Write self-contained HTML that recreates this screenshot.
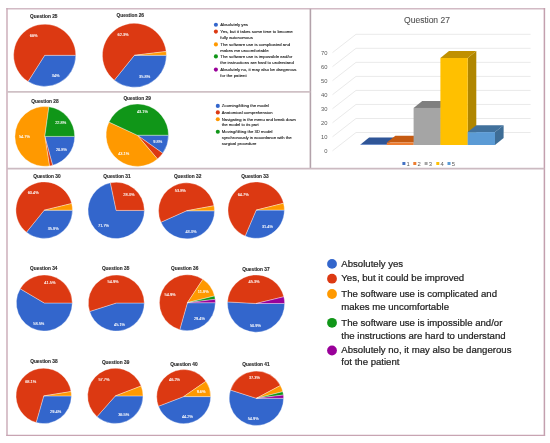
<!DOCTYPE html>
<html><head><meta charset="utf-8"><title>Survey charts</title><style>
html,body{margin:0;padding:0;background:#fff;width:550px;height:443px;overflow:hidden}
svg{display:block}
text{font-family:"Liberation Sans",Arial,sans-serif}
.qt{font-size:6.2px;font-weight:bold;fill:#2b2b2b;stroke:#2b2b2b;stroke-width:0.15px}
.pl{fill:#fff;text-anchor:middle;stroke:#fff;stroke-width:0.1px}
.sl{fill:#1e1e1e;stroke:#1e1e1e;stroke-width:0.12px}
.bl{fill:#1e1e1e;stroke:#1e1e1e;stroke-width:0.22px}
.bt{font-size:8.5px;fill:#555;text-anchor:middle;stroke:#555;stroke-width:0.12px}
.ax{font-size:5.8px;fill:#595959;text-anchor:end}
.lg{font-size:5.9px;fill:#595959}
</style></head>
<body><svg width="550" height="443" viewBox="0 0 550 443">
<rect width="550" height="443" fill="#fff"/>
<path d="M44.70 55.30L75.80 55.30A31.1 31.1 0 0 1 28.04 81.56Z" fill="#3366cc" stroke="#fff" stroke-width="0.35" stroke-linejoin="round"/>
<path d="M44.70 55.30L28.04 81.56A31.1 31.1 0 1 1 75.80 55.30Z" fill="#dc3912" stroke="#fff" stroke-width="0.35" stroke-linejoin="round"/>
<text x="55.69" y="76.69" class="pl" style="font-size:3.9px">34%</text>
<text x="33.71" y="36.71" class="pl" style="font-size:3.9px">66%</text>
<path d="M134.40 55.30L166.40 55.30A32 32 0 0 1 114.31 80.21Z" fill="#3366cc" stroke="#fff" stroke-width="0.35" stroke-linejoin="round"/>
<path d="M134.40 55.30L114.31 80.21A32 32 0 1 1 166.17 51.49Z" fill="#dc3912" stroke="#fff" stroke-width="0.35" stroke-linejoin="round"/>
<path d="M134.40 55.30L166.17 51.49A32 32 0 0 1 166.40 55.30Z" fill="#ff9900" stroke="#fff" stroke-width="0.35" stroke-linejoin="round"/>
<text x="144.61" y="78.05" class="pl" style="font-size:3.9px">35.8%</text>
<text x="123.01" y="36.14" class="pl" style="font-size:3.9px">62.3%</text>
<path d="M44.80 136.40L74.70 136.40A29.9 29.9 0 0 1 52.60 165.26Z" fill="#3366cc" stroke="#fff" stroke-width="0.35" stroke-linejoin="round"/>
<path d="M44.80 136.40L52.60 165.26A29.9 29.9 0 0 1 49.48 165.93Z" fill="#dc3912" stroke="#fff" stroke-width="0.35" stroke-linejoin="round"/>
<path d="M44.80 136.40L49.48 165.93A29.9 29.9 0 1 1 48.92 106.79Z" fill="#ff9900" stroke="#fff" stroke-width="0.35" stroke-linejoin="round"/>
<path d="M44.80 136.40L48.92 106.79A29.9 29.9 0 0 1 74.70 136.40Z" fill="#109618" stroke="#fff" stroke-width="0.35" stroke-linejoin="round"/>
<text x="61.43" y="150.53" class="pl" style="font-size:3.9px">20.8%</text>
<text x="24.48" y="138.00" class="pl" style="font-size:3.9px">54.7%</text>
<text x="60.68" y="123.98" class="pl" style="font-size:3.9px">22.8%</text>
<path d="M137.30 135.20L168.50 135.20A31.2 31.2 0 0 1 162.77 153.22Z" fill="#3366cc" stroke="#fff" stroke-width="0.35" stroke-linejoin="round"/>
<path d="M137.30 135.20L162.77 153.22A31.2 31.2 0 0 1 157.49 158.99Z" fill="#dc3912" stroke="#fff" stroke-width="0.35" stroke-linejoin="round"/>
<path d="M137.30 135.20L157.49 158.99A31.2 31.2 0 0 1 108.99 122.09Z" fill="#ff9900" stroke="#fff" stroke-width="0.35" stroke-linejoin="round"/>
<path d="M137.30 135.20L108.99 122.09A31.2 31.2 0 0 1 168.50 135.20Z" fill="#109618" stroke="#fff" stroke-width="0.35" stroke-linejoin="round"/>
<text x="157.77" y="143.11" class="pl" style="font-size:3.9px">9.8%</text>
<text x="123.67" y="154.53" class="pl" style="font-size:3.9px">43.1%</text>
<text x="142.40" y="113.47" class="pl" style="font-size:3.9px">43.1%</text>
<path d="M44.20 210.20L72.50 210.20A28.3 28.3 0 0 1 26.44 232.23Z" fill="#3366cc" stroke="#fff" stroke-width="0.35" stroke-linejoin="round"/>
<path d="M44.20 210.20L26.44 232.23A28.3 28.3 0 1 1 71.70 203.51Z" fill="#dc3912" stroke="#fff" stroke-width="0.35" stroke-linejoin="round"/>
<path d="M44.20 210.20L71.70 203.51A28.3 28.3 0 0 1 72.50 210.20Z" fill="#ff9900" stroke="#fff" stroke-width="0.35" stroke-linejoin="round"/>
<text x="53.17" y="230.35" class="pl" style="font-size:3.9px">35.8%</text>
<text x="33.23" y="194.32" class="pl" style="font-size:3.9px">60.4%</text>
<path d="M116.20 210.40L144.40 210.40A28.2 28.2 0 1 1 110.39 182.80Z" fill="#3366cc" stroke="#fff" stroke-width="0.35" stroke-linejoin="round"/>
<path d="M116.20 210.40L110.39 182.80A28.2 28.2 0 0 1 144.40 210.40Z" fill="#dc3912" stroke="#fff" stroke-width="0.35" stroke-linejoin="round"/>
<text x="103.53" y="227.42" class="pl" style="font-size:3.9px">71.7%</text>
<text x="128.87" y="196.19" class="pl" style="font-size:3.9px">28.3%</text>
<path d="M186.50 210.80L214.50 210.80A28 28 0 0 1 160.94 222.24Z" fill="#3366cc" stroke="#fff" stroke-width="0.35" stroke-linejoin="round"/>
<path d="M186.50 210.80L160.94 222.24A28 28 0 1 1 214.04 205.73Z" fill="#dc3912" stroke="#fff" stroke-width="0.35" stroke-linejoin="round"/>
<path d="M186.50 210.80L214.04 205.73A28 28 0 0 1 214.50 210.80Z" fill="#ff9900" stroke="#fff" stroke-width="0.35" stroke-linejoin="round"/>
<text x="190.93" y="232.95" class="pl" style="font-size:3.9px">43.3%</text>
<text x="180.28" y="192.20" class="pl" style="font-size:3.9px">53.8%</text>
<path d="M256.20 210.10L284.40 210.10A28.2 28.2 0 0 1 245.16 236.05Z" fill="#3366cc" stroke="#fff" stroke-width="0.35" stroke-linejoin="round"/>
<path d="M256.20 210.10L245.16 236.05A28.2 28.2 0 1 1 283.56 203.26Z" fill="#dc3912" stroke="#fff" stroke-width="0.35" stroke-linejoin="round"/>
<path d="M256.20 210.10L283.56 203.26A28.2 28.2 0 0 1 284.40 210.10Z" fill="#ff9900" stroke="#fff" stroke-width="0.35" stroke-linejoin="round"/>
<text x="267.42" y="228.47" class="pl" style="font-size:3.9px">31.4%</text>
<text x="243.18" y="196.26" class="pl" style="font-size:3.9px">64.7%</text>
<path d="M44.30 303.00L72.30 303.00A28 28 0 1 1 20.20 288.75Z" fill="#3366cc" stroke="#fff" stroke-width="0.35" stroke-linejoin="round"/>
<path d="M44.30 303.00L20.20 288.75A28 28 0 0 1 72.30 303.00Z" fill="#dc3912" stroke="#fff" stroke-width="0.35" stroke-linejoin="round"/>
<text x="38.75" y="324.71" class="pl" style="font-size:3.9px">58.5%</text>
<text x="49.85" y="284.10" class="pl" style="font-size:3.9px">41.5%</text>
<path d="M116.30 303.00L144.30 303.00A28 28 0 0 1 89.62 311.48Z" fill="#3366cc" stroke="#fff" stroke-width="0.35" stroke-linejoin="round"/>
<path d="M116.30 303.00L89.62 311.48A28 28 0 1 1 144.30 303.00Z" fill="#dc3912" stroke="#fff" stroke-width="0.35" stroke-linejoin="round"/>
<text x="119.58" y="325.53" class="pl" style="font-size:3.9px">45.1%</text>
<text x="113.02" y="283.28" class="pl" style="font-size:3.9px">54.9%</text>
<path d="M187.40 302.70L215.40 302.70A28 28 0 0 1 179.76 329.64Z" fill="#3366cc" stroke="#fff" stroke-width="0.35" stroke-linejoin="round"/>
<path d="M187.40 302.70L179.76 329.64A28 28 0 1 1 202.85 279.35Z" fill="#dc3912" stroke="#fff" stroke-width="0.35" stroke-linejoin="round"/>
<path d="M187.40 302.70L202.85 279.35A28 28 0 0 1 214.56 295.91Z" fill="#ff9900" stroke="#fff" stroke-width="0.35" stroke-linejoin="round"/>
<path d="M187.40 302.70L214.56 295.91A28 28 0 0 1 215.19 299.28Z" fill="#109618" stroke="#fff" stroke-width="0.35" stroke-linejoin="round"/>
<path d="M187.40 302.70L215.19 299.28A28 28 0 0 1 215.40 302.70Z" fill="#990099" stroke="#fff" stroke-width="0.35" stroke-linejoin="round"/>
<text x="199.48" y="320.08" class="pl" style="font-size:3.9px">29.4%</text>
<text x="170.03" y="296.13" class="pl" style="font-size:3.9px">54.9%</text>
<text x="203.23" y="292.90" class="pl" style="font-size:3.9px">11.8%</text>
<path d="M256.05 303.50L284.65 303.50A28.6 28.6 0 1 1 227.50 301.88Z" fill="#3366cc" stroke="#fff" stroke-width="0.35" stroke-linejoin="round"/>
<path d="M256.05 303.50L227.50 301.88A28.6 28.6 0 0 1 283.84 296.74Z" fill="#dc3912" stroke="#fff" stroke-width="0.35" stroke-linejoin="round"/>
<path d="M256.05 303.50L283.84 296.74A28.6 28.6 0 0 1 284.65 303.50Z" fill="#990099" stroke="#fff" stroke-width="0.35" stroke-linejoin="round"/>
<text x="255.42" y="327.12" class="pl" style="font-size:3.9px">50.9%</text>
<text x="254.05" y="282.96" class="pl" style="font-size:3.9px">45.3%</text>
<path d="M43.70 395.90L71.40 395.90A27.7 27.7 0 0 1 36.14 422.55Z" fill="#3366cc" stroke="#fff" stroke-width="0.35" stroke-linejoin="round"/>
<path d="M43.70 395.90L36.14 422.55A27.7 27.7 0 1 1 71.06 391.57Z" fill="#dc3912" stroke="#fff" stroke-width="0.35" stroke-linejoin="round"/>
<path d="M43.70 395.90L71.06 391.57A27.7 27.7 0 0 1 71.40 395.90Z" fill="#ff9900" stroke="#fff" stroke-width="0.35" stroke-linejoin="round"/>
<text x="55.64" y="413.10" class="pl" style="font-size:3.9px">29.4%</text>
<text x="30.68" y="382.63" class="pl" style="font-size:3.9px">68.1%</text>
<path d="M115.30 395.90L143.00 395.90A27.7 27.7 0 0 1 96.98 416.68Z" fill="#3366cc" stroke="#fff" stroke-width="0.35" stroke-linejoin="round"/>
<path d="M115.30 395.90L96.98 416.68A27.7 27.7 0 1 1 141.18 386.03Z" fill="#dc3912" stroke="#fff" stroke-width="0.35" stroke-linejoin="round"/>
<path d="M115.30 395.90L141.18 386.03A27.7 27.7 0 0 1 143.00 395.90Z" fill="#ff9900" stroke="#fff" stroke-width="0.35" stroke-linejoin="round"/>
<text x="123.68" y="415.87" class="pl" style="font-size:3.9px">36.5%</text>
<text x="103.96" y="380.95" class="pl" style="font-size:3.9px">57.7%</text>
<path d="M183.70 396.60L210.70 396.60A27 27 0 0 1 158.47 406.22Z" fill="#3366cc" stroke="#fff" stroke-width="0.35" stroke-linejoin="round"/>
<path d="M183.70 396.60L158.47 406.22A27 27 0 0 1 205.94 381.28Z" fill="#dc3912" stroke="#fff" stroke-width="0.35" stroke-linejoin="round"/>
<path d="M183.70 396.60L205.94 381.28A27 27 0 0 1 210.70 396.60Z" fill="#ff9900" stroke="#fff" stroke-width="0.35" stroke-linejoin="round"/>
<text x="187.42" y="418.18" class="pl" style="font-size:3.9px">44.2%</text>
<text x="174.55" y="380.60" class="pl" style="font-size:3.9px">46.2%</text>
<text x="201.07" y="392.60" class="pl" style="font-size:3.9px">9.6%</text>
<path d="M256.40 398.30L283.60 398.30A27.2 27.2 0 1 1 230.48 390.06Z" fill="#3366cc" stroke="#fff" stroke-width="0.35" stroke-linejoin="round"/>
<path d="M256.40 398.30L230.48 390.06A27.2 27.2 0 0 1 280.40 385.50Z" fill="#dc3912" stroke="#fff" stroke-width="0.35" stroke-linejoin="round"/>
<path d="M256.40 398.30L280.40 385.50A27.2 27.2 0 0 1 282.79 391.70Z" fill="#ff9900" stroke="#fff" stroke-width="0.35" stroke-linejoin="round"/>
<path d="M256.40 398.30L282.79 391.70A27.2 27.2 0 0 1 283.41 395.06Z" fill="#109618" stroke="#fff" stroke-width="0.35" stroke-linejoin="round"/>
<path d="M256.40 398.30L283.41 395.06A27.2 27.2 0 0 1 283.60 398.30Z" fill="#990099" stroke="#fff" stroke-width="0.35" stroke-linejoin="round"/>
<text x="253.22" y="420.21" class="pl" style="font-size:3.9px">54.9%</text>
<text x="254.49" y="378.85" class="pl" style="font-size:3.9px">37.3%</text>
<text x="30.10" y="17.80" class="qt" textLength="27.4" lengthAdjust="spacingAndGlyphs">Question 25</text>
<text x="116.60" y="17.10" class="qt" textLength="27.4" lengthAdjust="spacingAndGlyphs">Question 26</text>
<text x="31.30" y="102.80" class="qt" textLength="27.4" lengthAdjust="spacingAndGlyphs">Question 28</text>
<text x="123.40" y="99.90" class="qt" textLength="27.4" lengthAdjust="spacingAndGlyphs">Question 29</text>
<text x="33.20" y="177.80" class="qt" textLength="27.4" lengthAdjust="spacingAndGlyphs">Question 30</text>
<text x="103.30" y="177.50" class="qt" textLength="27.4" lengthAdjust="spacingAndGlyphs">Question 31</text>
<text x="173.90" y="177.50" class="qt" textLength="27.4" lengthAdjust="spacingAndGlyphs">Question 32</text>
<text x="241.30" y="177.80" class="qt" textLength="27.4" lengthAdjust="spacingAndGlyphs">Question 33</text>
<text x="30.10" y="269.70" class="qt" textLength="27.4" lengthAdjust="spacingAndGlyphs">Question 34</text>
<text x="101.90" y="269.70" class="qt" textLength="27.4" lengthAdjust="spacingAndGlyphs">Question 35</text>
<text x="171.00" y="270.30" class="qt" textLength="27.4" lengthAdjust="spacingAndGlyphs">Question 36</text>
<text x="242.20" y="270.50" class="qt" textLength="27.4" lengthAdjust="spacingAndGlyphs">Question 37</text>
<text x="30.20" y="362.90" class="qt" textLength="27.4" lengthAdjust="spacingAndGlyphs">Question 38</text>
<text x="101.90" y="364.00" class="qt" textLength="27.4" lengthAdjust="spacingAndGlyphs">Question 39</text>
<text x="170.20" y="365.80" class="qt" textLength="27.4" lengthAdjust="spacingAndGlyphs">Question 40</text>
<text x="242.30" y="365.80" class="qt" textLength="27.4" lengthAdjust="spacingAndGlyphs">Question 41</text>
<circle cx="215.9" cy="24.7" r="2.05" fill="#3366cc"/>
<text x="220.3" y="26.20" class="sl" style="font-size:4.3px">Absolutely yes</text>
<circle cx="215.9" cy="31.6" r="2.05" fill="#dc3912"/>
<text x="220.3" y="33.11" class="sl" style="font-size:4.3px">Yes, but it takes some time to become</text>
<text x="220.3" y="39.21" class="sl" style="font-size:4.3px">fully autonomous</text>
<circle cx="215.9" cy="44.4" r="2.05" fill="#ff9900"/>
<text x="220.3" y="45.91" class="sl" style="font-size:4.3px">The software use is complicated and</text>
<text x="220.3" y="51.80" class="sl" style="font-size:4.3px">makes me uncomfortable</text>
<circle cx="215.9" cy="56.4" r="2.05" fill="#109618"/>
<text x="220.3" y="57.91" class="sl" style="font-size:4.3px">The software use is impossible and/or</text>
<text x="220.3" y="64.00" class="sl" style="font-size:4.3px">the instructions are hard to understand</text>
<circle cx="215.9" cy="69.6" r="2.05" fill="#990099"/>
<text x="220.3" y="71.10" class="sl" style="font-size:4.3px">Absolutely no, it may also be dangerous</text>
<text x="220.3" y="77.00" class="sl" style="font-size:4.3px">for the patient</text>
<circle cx="217.8" cy="105.9" r="2.05" fill="#3366cc"/>
<text x="221.8" y="107.38" class="sl" style="font-size:4.22px">Zooming/tilting the model</text>
<circle cx="217.8" cy="112.4" r="2.05" fill="#dc3912"/>
<text x="221.8" y="113.88" class="sl" style="font-size:4.22px">Anatomical comprehension</text>
<circle cx="217.8" cy="119.3" r="2.05" fill="#ff9900"/>
<text x="221.8" y="120.78" class="sl" style="font-size:4.22px">Navigating in the menu and break down</text>
<text x="221.8" y="126.28" class="sl" style="font-size:4.22px">the model to its part</text>
<circle cx="217.8" cy="131.7" r="2.05" fill="#109618"/>
<text x="221.8" y="133.18" class="sl" style="font-size:4.22px">Moving/tilting the 3D model</text>
<text x="221.8" y="138.88" class="sl" style="font-size:4.22px">synchronously in accordance with the</text>
<text x="221.8" y="144.68" class="sl" style="font-size:4.22px">surgical procedure</text>
<circle cx="332" cy="263.9" r="4.9" fill="#3366cc"/>
<text x="341.3" y="266.66" class="bl" style="font-size:9.6px">Absolutely yes</text>
<circle cx="332" cy="278.7" r="4.9" fill="#dc3912"/>
<text x="341.3" y="281.46" class="bl" style="font-size:9.6px">Yes, but it could be improved</text>
<circle cx="332" cy="294.0" r="4.9" fill="#ff9900"/>
<text x="341.3" y="296.76" class="bl" style="font-size:9.6px">The software use is complicated and</text>
<text x="341.3" y="309.86" class="bl" style="font-size:9.6px">makes me uncomfortable</text>
<circle cx="332" cy="322.8" r="4.9" fill="#109618"/>
<text x="341.3" y="325.56" class="bl" style="font-size:9.6px">The software use is impossible and/or</text>
<text x="341.3" y="338.86" class="bl" style="font-size:9.6px">the instructions are hard to understand</text>
<circle cx="332" cy="350.5" r="4.9" fill="#990099"/>
<text x="341.3" y="353.26" class="bl" style="font-size:9.6px">Absolutely no, it may also be dangerous</text>
<text x="341.3" y="365.26" class="bl" style="font-size:9.6px">fot the patient</text>
<text x="427" y="22.7" class="bt">Question 27</text>
<text x="327.5" y="153.10" class="ax">0</text>
<polyline points="332.5,150.80 356,132.50 530.6,132.50" fill="none" stroke="#eaeaea" stroke-width="1.0"/>
<text x="327.5" y="139.07" class="ax">10</text>
<polyline points="332.5,136.77 356,118.47 530.6,118.47" fill="none" stroke="#eaeaea" stroke-width="1.0"/>
<text x="327.5" y="125.04" class="ax">20</text>
<polyline points="332.5,122.74 356,104.44 530.6,104.44" fill="none" stroke="#eaeaea" stroke-width="1.0"/>
<text x="327.5" y="111.01" class="ax">30</text>
<polyline points="332.5,108.71 356,90.41 530.6,90.41" fill="none" stroke="#eaeaea" stroke-width="1.0"/>
<text x="327.5" y="96.98" class="ax">40</text>
<polyline points="332.5,94.68 356,76.38 530.6,76.38" fill="none" stroke="#eaeaea" stroke-width="1.0"/>
<text x="327.5" y="82.95" class="ax">50</text>
<polyline points="332.5,80.65 356,62.35 530.6,62.35" fill="none" stroke="#eaeaea" stroke-width="1.0"/>
<text x="327.5" y="68.92" class="ax">60</text>
<polyline points="332.5,66.62 356,48.32 530.6,48.32" fill="none" stroke="#eaeaea" stroke-width="1.0"/>
<text x="327.5" y="54.89" class="ax">70</text>
<polyline points="332.5,52.59 356,34.29 530.6,34.29" fill="none" stroke="#eaeaea" stroke-width="1.0"/>
<polygon points="386.8,144.51 395.40000000000003,137.61 395.40000000000003,138.10 386.8,145.0" fill="#2f5597"/>
<polygon points="360.5,144.51 369.1,137.61 395.40000000000003,137.61 386.8,144.51" fill="#2f5597"/>
<rect x="360.5" y="144.51" width="26.30" height="0.49" fill="#4472c4"/>
<polygon points="413.6,142.61 422.20000000000005,135.71 422.20000000000005,138.10 413.6,145.0" fill="#ae5a21"/>
<polygon points="386.8,142.61 395.40000000000003,135.71 422.20000000000005,135.71 413.6,142.61" fill="#c55a11"/>
<rect x="386.8" y="142.61" width="26.80" height="2.39" fill="#ed7d31"/>
<polygon points="440.4,107.96 449.0,101.06 449.0,138.10 440.4,145.0" fill="#7c7c7c"/>
<polygon points="413.6,107.96 422.20000000000005,101.06 449.0,101.06 440.4,107.96" fill="#7f7f7f"/>
<rect x="413.6" y="107.96" width="26.80" height="37.04" fill="#a5a5a5"/>
<polygon points="467.7,58.01 476.3,51.11 476.3,138.10 467.7,145.0" fill="#b08600"/>
<polygon points="440.4,58.01 449.0,51.11 476.3,51.11 467.7,58.01" fill="#c09000"/>
<rect x="440.4" y="58.01" width="27.30" height="86.99" fill="#ffc000"/>
<polygon points="495.0,132.09 503.6,125.19 503.6,138.10 495.0,145.0" fill="#3e6d96"/>
<polygon points="467.7,132.09 476.3,125.19 503.6,125.19 495.0,132.09" fill="#41719c"/>
<rect x="467.7" y="132.09" width="27.30" height="12.91" fill="#5b9bd5"/>
<rect x="402.4" y="162" width="3" height="3" fill="#4472c4"/>
<text x="406.6" y="165.6" class="lg">1</text>
<rect x="413.3" y="162" width="3" height="3" fill="#ed7d31"/>
<text x="417.5" y="165.6" class="lg">2</text>
<rect x="424.6" y="162" width="3" height="3" fill="#a5a5a5"/>
<text x="428.8" y="165.6" class="lg">3</text>
<rect x="436.3" y="162" width="3" height="3" fill="#ffc000"/>
<text x="440.5" y="165.6" class="lg">4</text>
<rect x="447.5" y="162" width="3" height="3" fill="#5b9bd5"/>
<text x="451.7" y="165.6" class="lg">5</text>
<line x1="6.3" y1="8.8" x2="545.1" y2="8.8" stroke="#d2bac4" stroke-width="1.6"/>
<line x1="7" y1="8.1" x2="7" y2="436.1" stroke="#c9a9b6" stroke-width="1.4"/>
<line x1="544.4" y1="8.1" x2="544.4" y2="436.1" stroke="#c3a0ae" stroke-width="1.5"/>
<line x1="6.3" y1="435.4" x2="545.1" y2="435.4" stroke="#c8a4b2" stroke-width="1.4"/>
<line x1="310.4" y1="8.8" x2="310.4" y2="168.8" stroke="#b3a2aa" stroke-width="1.6"/>
<line x1="7" y1="91.8" x2="310.4" y2="91.8" stroke="#cfc0c5" stroke-width="1.8"/>
<line x1="7" y1="168.7" x2="544.4" y2="168.7" stroke="#ccbac1" stroke-width="1.8"/>
</svg></body></html>
